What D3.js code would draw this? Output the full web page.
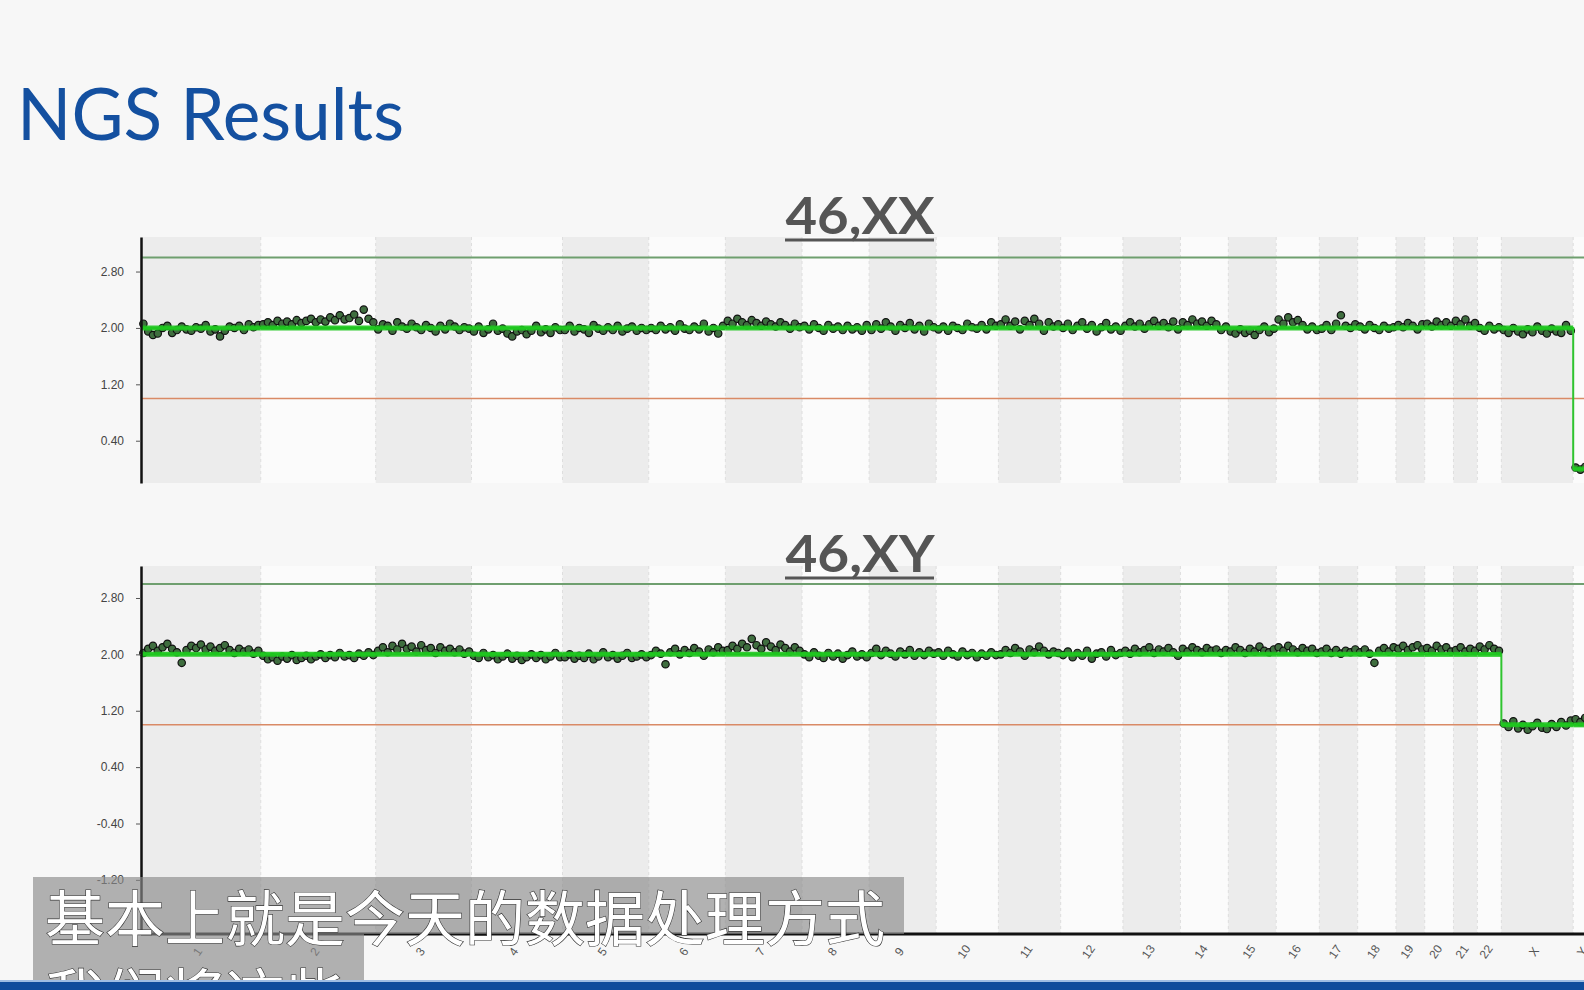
<!DOCTYPE html>
<html>
<head>
<meta charset="utf-8">
<script src="https://cdn.jsdelivr.net/npm/d3@7"></script>
<style>
  body { margin: 0; background: #f7f7f7; overflow: hidden; }
</style>
</head>
<body>
<script>
// chromosome layout (bins per chromosome)
const chromNames = ['1','2','3','4','5','6','7','8','9','10','11','12','13','14','15','16','17','18','19','20','21','22','X','Y']
const chromBins  = [25,24,20,19,18,16,16,14,14,13,13,13,12,10,10,9,8,8,6,6,5,5,15,5]

// copy number per bin, 46,XX
const xxValues = [
  [2.06,1.95,1.90,1.92,2.00,2.03,1.93,1.97,2.02,1.98,1.96,2.01,1.99,2.04,1.95,1.98,1.88,1.96,2.02,2.00,2.03,1.97,2.05,2.01,2.04],
  [2.05,2.08,2.04,2.10,2.06,2.09,2.05,2.11,2.07,2.10,2.13,2.08,2.12,2.09,2.15,2.11,2.18,2.12,2.14,2.19,2.10,2.26,2.13,2.08],
  [1.98,2.05,2.03,1.96,2.08,2.02,1.99,2.06,2.01,1.97,2.04,2.00,1.95,2.03,1.98,2.06,2.02,1.97,2.01,1.99],
  [1.95,2.02,1.93,1.98,2.06,1.96,1.99,1.92,1.88,1.95,1.97,1.91,1.96,2.03,1.94,1.98,1.93,2.01,1.97],
  [1.97,2.03,1.95,2.00,1.98,1.93,2.04,1.99,1.96,2.01,1.97,2.03,1.95,1.99,2.02,1.96,2.00,1.97],
  [2.00,1.97,2.03,1.98,2.01,1.96,2.05,1.99,1.97,2.02,1.98,2.06,1.95,2.00,1.92,2.03],
  [2.10,2.06,2.13,2.08,2.04,2.11,2.07,2.03,2.09,2.05,2.02,2.08,2.04,1.99,2.06,2.01],
  [2.03,1.98,2.05,2.00,1.96,2.04,1.99,2.02,1.97,2.03,1.98,2.01,1.96,2.04],
  [1.97,2.05,1.99,2.08,2.02,1.96,2.04,2.00,2.07,1.98,2.03,1.95,2.06,2.01],
  [1.98,2.02,1.96,2.03,2.00,1.97,2.06,2.01,1.99,2.04,1.98,2.08,2.03],
  [2.05,2.12,2.03,2.09,1.98,2.10,2.04,2.13,2.06,1.96,2.08,2.02,2.05],
  [2.00,2.06,1.97,2.03,2.08,1.99,2.04,1.95,2.01,2.07,1.98,2.02,1.96],
  [2.03,2.08,2.02,2.06,1.99,2.05,2.10,2.03,2.07,2.01,2.09,1.98],
  [2.08,2.04,2.12,2.06,2.09,2.03,2.10,2.05,1.97,2.02],
  [1.95,1.92,1.98,1.93,1.96,1.90,1.97,2.02,1.94,1.99],
  [2.12,2.06,2.15,2.08,2.11,2.04,1.98,2.02,1.97],
  [1.99,2.04,1.97,2.06,2.18,2.03,2.00,2.05],
  [2.02,1.98,2.04,2.00,1.97,2.03,1.99,2.01],
  [2.04,2.01,2.07,2.03,1.98,2.05],
  [2.06,2.02,2.09,2.04,2.08,2.03],
  [2.10,2.05,2.12,2.03,2.07],
  [2.00,1.96,2.03,1.98,2.01],
  [1.97,1.93,2.00,1.95,1.91,1.98,1.94,2.02,1.96,1.92,1.99,1.95,1.93,2.04,1.96],
  [0.02,-0.01,0.03,0.00,0.02]
]
// copy number per bin, 46,XY
const xyValues = [
  [2.02,2.08,2.12,2.05,2.10,2.15,2.08,2.03,1.88,2.06,2.12,2.09,2.14,2.07,2.11,2.05,2.09,2.13,2.06,2.02,2.08,2.04,2.07,2.01,2.05],
  [1.98,1.93,1.96,1.91,1.97,1.94,1.99,1.92,1.95,1.98,1.93,1.97,2.00,1.95,1.99,1.96,2.02,1.97,1.99,1.95,2.01,1.98,2.03,1.99],
  [2.05,2.10,2.03,2.12,2.07,2.15,2.08,2.11,2.04,2.13,2.06,2.09,2.02,2.10,2.05,2.08,2.03,2.07,2.01,2.04],
  [1.98,1.95,2.02,1.96,1.99,1.93,1.97,2.01,1.94,1.98,1.92,1.96,2.00,1.95,1.99,1.93,1.97,2.02,1.96],
  [1.96,2.00,1.94,1.98,1.95,2.01,1.93,1.97,2.03,1.96,1.99,1.94,1.98,2.02,1.95,1.97,2.00,1.96],
  [1.99,2.05,2.01,1.86,2.03,2.08,2.00,2.06,2.02,2.09,2.04,1.98,2.07,2.03,2.10,2.05],
  [2.06,2.12,2.08,2.15,2.10,2.22,2.13,2.08,2.17,2.11,2.06,2.14,2.09,2.04,2.10,2.05],
  [2.00,1.96,2.03,1.98,1.95,2.02,1.97,2.01,1.94,1.99,2.04,1.97,2.00,1.96],
  [2.02,2.08,1.99,2.05,2.01,1.97,2.04,2.00,2.06,1.98,2.03,1.99,2.05,2.01],
  [2.03,1.98,2.05,2.00,1.97,2.04,1.99,2.02,1.96,2.01,1.98,2.03,1.99],
  [2.00,2.06,2.02,2.09,2.04,1.98,2.07,2.03,2.11,2.05,2.00,2.04,2.02],
  [1.99,2.04,1.96,2.02,1.98,2.05,1.94,2.01,2.03,1.97,2.06,1.99,2.02],
  [2.05,2.01,2.08,2.03,2.06,2.10,2.02,2.07,2.04,2.09,2.03,1.98],
  [2.08,2.04,2.10,2.06,2.03,2.09,2.05,2.07,2.02,2.06],
  [2.04,2.10,2.06,2.02,2.08,2.04,2.11,2.05,2.03,2.07],
  [2.10,2.05,2.12,2.07,2.03,2.09,2.05,2.08,2.02],
  [2.04,2.08,2.02,2.06,2.01,2.05,2.03,2.07],
  [2.03,2.07,2.01,1.88,2.05,2.09,2.04,2.10],
  [2.08,2.12,2.06,2.10,2.13,2.07],
  [2.09,2.05,2.12,2.07,2.10,2.04],
  [2.06,2.10,2.04,2.08,2.05],
  [2.11,2.07,2.13,2.08,2.05],
  [1.02,0.97,1.05,0.95,1.00,0.93,0.98,1.03,0.96,0.94,1.01,0.97,1.04,0.99,1.06],
  [1.08,1.04,1.10,1.05,1.08]
]
// segment calls per chromosome
const xxSegments = [2,2,2,2,2,2,2,2,2,2,2,2,2,2,2,2,2,2,2,2,2,2,2,0]
const xySegments = [2,2,2,2,2,2,2,2,2,2,2,2,2,2,2,2,2,2,2,2,2,2,1,1]

const yTicks = [2.8, 2.0, 1.2, 0.4, -0.4, -1.2]
const gainLevel = 3
const lossLevel = 1

const width = 1584, height = 990
const svg = d3.select('body').append('svg')
  .attr('width', width)
  .attr('height', height)
svg.append('rect').attr('width', width).attr('height', height).attr('fill', '#f7f7f7')

// title
svg.append('text')
  .attr('x', 17).attr('y', 140)
  .attr('font-family', 'Lato, "Open Sans", sans-serif')
  .attr('font-size', 72)
  .attr('fill', '#1450a0')
  .attr('textLength', 387)
  .attr('lengthAdjust', 'spacingAndGlyphs')
  .text('NGS Results')

const totalBins = d3.sum(chromBins)
const ends = Array.from(d3.cumsum(chromBins))
const starts = ends.map((e, i) => e - chromBins[i])
const xScale = d3.scaleLinear()
  .domain([0, totalBins])
  .range([141, 141 + totalBins * 4.79])

const panels = [
  { title: '46,XX', values: xxValues, segments: xxSegments, top: 237, bottom: 483, domain: [-0.2, 3.29], titleY: 234, lineY: 240, xAxis: false },
  { title: '46,XY', values: xyValues, segments: xySegments, top: 566, bottom: 934, domain: [-1.968, 3.254], titleY: 572, lineY: 578, xAxis: true }
]

panels.forEach(function (p) {
  let yScale = d3.scaleLinear().domain(p.domain).range([p.bottom, p.top])
  let g = svg.append('g')

  // chromosome bands
  g.selectAll('.band')
    .data(chromNames)
    .enter().append('rect')
    .attr('class', 'band')
    .attr('x', (d, i) => xScale(starts[i]))
    .attr('width', (d, i) => xScale(ends[i]) - xScale(starts[i]))
    .attr('y', p.top)
    .attr('height', p.bottom - p.top)
    .attr('fill', (d, i) => i % 2 === 0 ? '#ececec' : '#fbfbfb')
  g.selectAll('.sep')
    .data(ends)
    .enter().append('line')
    .attr('x1', d => xScale(d)).attr('x2', d => xScale(d))
    .attr('y1', p.top).attr('y2', p.bottom)
    .attr('stroke', '#dedede')
    .attr('stroke-dasharray', '3,3')

  // thresholds
  g.append('line')
    .attr('x1', 141).attr('x2', width)
    .attr('y1', yScale(gainLevel)).attr('y2', yScale(gainLevel))
    .attr('stroke', '#6f9f6f').attr('stroke-width', 2)
  g.append('line')
    .attr('x1', 141).attr('x2', width)
    .attr('y1', yScale(lossLevel)).attr('y2', yScale(lossLevel))
    .attr('stroke', '#d98a66').attr('stroke-width', 1.5)

  // bins
  let pts = []
  p.values.forEach(function (arr, c) {
    arr.forEach(function (v, i) { pts.push({ pos: starts[c] + i + 0.5, v: v }) })
  })
  g.selectAll('.pt')
    .data(pts)
    .enter().append('circle')
    .attr('cx', d => xScale(d.pos))
    .attr('cy', d => yScale(d.v))
    .attr('r', 3.7)
    .attr('fill', '#3f6e3f')
    .attr('stroke', '#111')
    .attr('stroke-width', 1.2)

  // segment profile
  let steps = p.segments.map((s, i) => ({ pos: starts[i], v: s }))
  steps.push({ pos: totalBins, v: p.segments[p.segments.length - 1] })
  g.append('path')
    .datum(steps)
    .attr('fill', 'none')
    .attr('stroke', '#2fc42f')
    .attr('stroke-width', 2)
    .attr('d', d3.line().x(d => xScale(d.pos)).y(d => yScale(d.v)).curve(d3.curveStepAfter))
  g.selectAll('.seg')
    .data(p.segments)
    .enter().append('line')
    .attr('x1', (d, i) => xScale(starts[i]))
    .attr('x2', (d, i) => xScale(ends[i]))
    .attr('y1', d => yScale(d)).attr('y2', d => yScale(d))
    .attr('stroke', '#1ec81e')
    .attr('stroke-width', 5)
    .attr('opacity', 0.9)

  // y axis
  let yAxis = g.append('g')
    .attr('transform', 'translate(141,0)')
    .call(d3.axisLeft(yScale)
      .tickValues(yTicks.filter(t => t >= p.domain[0] && t <= p.domain[1]))
      .tickFormat(d => d.toFixed(2))
      .tickSize(5)
      .tickSizeOuter(0)
      .tickPadding(12))
  yAxis.select('.domain').attr('stroke', '#111').attr('stroke-width', 2.5)
  yAxis.selectAll('.tick line').attr('stroke', '#555')
  yAxis.selectAll('.tick text')
    .attr('font-family', 'Arial, "Liberation Sans", sans-serif')
    .attr('font-size', 12)
    .attr('fill', '#444')

  if (p.xAxis) {
    g.append('line')
      .attr('x1', 141).attr('x2', width)
      .attr('y1', p.bottom).attr('y2', p.bottom)
      .attr('stroke', '#111').attr('stroke-width', 3)
    g.selectAll('.xlab')
      .data(chromNames)
      .enter().append('text')
      .attr('text-anchor', 'middle')
      .attr('font-family', 'Arial, "Liberation Sans", sans-serif')
      .attr('font-size', 12)
      .attr('fill', '#555')
      .attr('transform', (d, i) => 'translate(' + xScale((starts[i] + ends[i]) / 2) + ',' + (p.bottom + 20) + ') rotate(-55)')
      .text(d => d)
  }

  // panel title, underlined, on top of the bands
  g.append('text')
    .attr('x', 860).attr('y', p.titleY)
    .attr('text-anchor', 'middle')
    .attr('font-family', 'Lato, "Open Sans", sans-serif')
    .attr('font-weight', 'bold')
    .attr('font-size', 52)
    .attr('fill', '#555')
    .attr('textLength', 149)
    .attr('lengthAdjust', 'spacingAndGlyphs')
    .text(p.title)
  g.append('line')
    .attr('x1', 785).attr('x2', 934)
    .attr('y1', p.lineY).attr('y2', p.lineY)
    .attr('stroke', '#555').attr('stroke-width', 3)
})

// subtitle overlay
const subLines = ['基本上就是今天的数据处理方式', '我们将这些']
svg.append('rect').attr('x', 33).attr('y', 877).attr('width', 871).attr('height', 57)
  .attr('fill', '#8a8a8a').attr('opacity', 0.65)
svg.append('rect').attr('x', 33).attr('y', 934).attr('width', 331).attr('height', 56)
  .attr('fill', '#8a8a8a').attr('opacity', 0.65)
svg.selectAll('.sub')
  .data(subLines)
  .enter().append('text')
  .attr('x', 45)
  .attr('y', (d, i) => 941 + i * 78)
  .attr('font-family', '"Noto Sans CJK SC", sans-serif')
  .attr('font-size', 60)
  .attr('fill', '#fff')
  .attr('stroke', '#333')
  .attr('stroke-width', 1.2)
  .attr('paint-order', 'stroke')
  .text(d => d)

// footer bar
svg.append('rect').attr('x', 0).attr('y', 980).attr('width', width).attr('height', 2).attr('fill', '#9dbde3')
svg.append('rect').attr('x', 0).attr('y', 982).attr('width', width).attr('height', 8).attr('fill', '#0e4c9c')
</script>
</body>
</html>
